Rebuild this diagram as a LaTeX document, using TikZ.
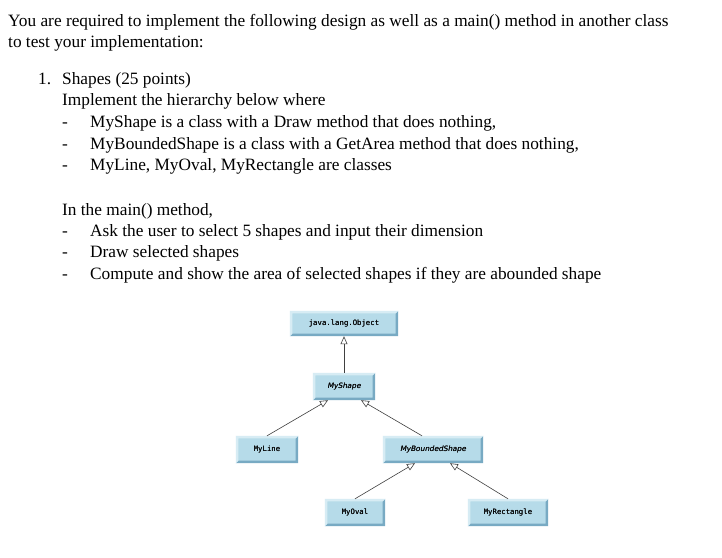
\documentclass[tikz,border=0pt]{standalone}
\usepackage{fontspec}
\setmainfont{Liberation Serif}
\newfontfamily\boxmono{DejaVu Sans Mono}
\newfontfamily\boxit{DejaVu Sans}[FakeSlant=0.2]
\usetikzlibrary{arrows.meta}
\definecolor{boxfill}{RGB}{182,219,233}
\definecolor{boxdark}{RGB}{120,170,195}
\definecolor{boxlight}{RGB}{215,236,244}
\tikzset{
  txt/.style={anchor=base west,inner sep=0pt,font=\fontsize{17.3}{21}\selectfont},
  cls/.style={fill=boxfill,inner sep=0pt,minimum height=27pt,font=\boxmono\fontsize{7.3}{9}\selectfont},
  clsit/.style={cls,font=\boxit\fontsize{7.3}{9}\selectfont},
  inh/.style={draw=black!75,line width=0.6pt,-{Triangle[open,length=8pt,width=7pt,fill=white]}}
}
\newcommand{\bevel}[1]{%
  \fill[boxdark] (#1.south west) -- (#1.south east) -- (#1.north east) -- ([xshift=-2.5pt,yshift=-2.5pt]#1.north east) -- ([xshift=-2.5pt,yshift=2.5pt]#1.south east) -- ([xshift=2.5pt,yshift=2.5pt]#1.south west) -- cycle;
  \fill[boxlight] (#1.south west) -- (#1.north west) -- (#1.north east) -- ([xshift=-2.5pt,yshift=-2.5pt]#1.north east) -- ([xshift=2.5pt,yshift=-2.5pt]#1.north west) -- ([xshift=2.5pt,yshift=2.5pt]#1.south west) -- cycle;}
\begin{document}
\begin{tikzpicture}[x=1pt,y=-1pt]
\useasboundingbox[fill=white] (0,0) rectangle (722,557);
\node[txt] (l1) at (8,26) {You are required to implement the following design as well as a main() method in another class};
\node[txt] (l2) at (8,47) {to test your implementation:};
\node[txt] (l3) at (38,84) {1.};
\node[txt] (l3b) at (62,84) {Shapes (25 points)};
\node[txt] (l4) at (62,105) {Implement the hierarchy below where};
\node[txt] (d1) at (62,127) {-};
\node[txt] (l5) at (90,127) {MyShape is a class with a Draw method that does nothing,};
\node[txt] (d2) at (62,149) {-};
\node[txt] (l6) at (90,149) {MyBoundedShape is a class with a GetArea method that does nothing,};
\node[txt] (d3) at (62,170) {-};
\node[txt] (l7) at (90,170) {MyLine, MyOval, MyRectangle are classes};
\node[txt] (l8) at (62,215) {In the main() method,};
\node[txt] (d4) at (62,236) {-};
\node[txt] (l9) at (90,236) {Ask the user to select 5 shapes and input their dimension};
\node[txt] (d5) at (62,257) {-};
\node[txt] (l10) at (90,257) {Draw selected shapes};
\node[txt] (d6) at (62,279) {-};
\node[txt] (l11) at (90,279) {Compute and show the area of selected shapes if they are abounded shape};

\node[cls,minimum width=108pt,minimum height=25pt] (obj) at (344,323.5) {java.lang.Object};
\node[clsit,minimum width=62pt] (shape) at (344,386.5) {MyShape};
\node[cls,minimum width=62pt] (line) at (267,449.5) {MyLine};
\node[clsit,minimum width=100pt] (bounded) at (433,449.5) {MyBoundedShape};
\node[cls,minimum width=60pt] (oval) at (355,512.5) {MyOval};
\node[cls,minimum width=80pt] (rect) at (508,512.5) {MyRectangle};
\bevel{obj}\bevel{shape}\bevel{line}\bevel{bounded}\bevel{oval}\bevel{rect}
\node[cls,fill=none] at (obj) {java.lang.Object};
\node[clsit,fill=none] at (shape) {MyShape};
\node[cls,fill=none] at (line) {MyLine};
\node[clsit,fill=none] at (bounded) {MyBoundedShape};
\node[cls,fill=none] at (oval) {MyOval};
\node[cls,fill=none] at (rect) {MyRectangle};

\draw[inh] (shape.north) -- (obj.south);
\draw[inh] (line.north) -- ([xshift=-16pt]shape.south);
\draw[inh] ([xshift=-11pt]bounded.north) -- ([xshift=17pt]shape.south);
\draw[inh] (oval.north) -- ([xshift=-18pt]bounded.south);
\draw[inh] (rect.north) -- ([xshift=17pt]bounded.south);
\end{tikzpicture}
\end{document}
